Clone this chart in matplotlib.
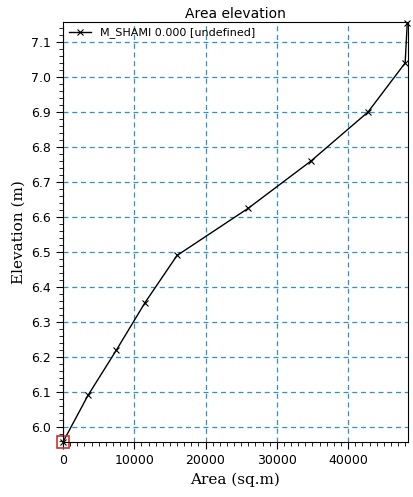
import matplotlib
matplotlib.use("Agg")
import matplotlib.pyplot as plt
from matplotlib.ticker import MultipleLocator

area = [0, 3500, 7500, 11500, 16000, 26000, 34800, 42800, 48000, 48300]
elev = [5.957, 6.09, 6.22, 6.355, 6.49, 6.625, 6.76, 6.9, 7.04, 7.155]
xticks = [0, 10000, 20000, 30000, 40000]
yticks = [6.0, 6.1, 6.2, 6.3, 6.4, 6.5, 6.6, 6.7, 6.8, 6.9, 7.0, 7.1]

fig = plt.figure(figsize=(4.13, 4.97), dpi=100)
ax = fig.add_axes([63/413, 1-442/497, 345/413, 420/497])
ax.plot(area, elev, color="black", lw=1, marker="x", ms=5, mew=0.8,
        label="M_SHAMI 0.000 [undefined]", clip_on=False)
ax.plot([area[0]], [elev[0]], marker="s", ms=9, mfc="none", mec="#d03030",
        mew=1.2, clip_on=False)
ax.set_xlim(0, 48400)
ax.set_ylim(5.957, 7.157)
ax.set_xticks(xticks)
ax.set_xticklabels([str(v) for v in xticks])
ax.set_yticks(yticks)
ax.set_yticklabels([f"{v:.1f}" for v in yticks])
ax.xaxis.set_minor_locator(MultipleLocator(1000))
ax.yaxis.set_minor_locator(MultipleLocator(0.02))
ax.tick_params(which="major", direction="out", length=5, labelsize=9)
ax.tick_params(which="minor", direction="out", length=3)
ax.grid(True, color="#3090c8", ls=(0, (4, 3)), lw=0.9)
ax.set_title("Area elevation", fontsize=10, pad=3)
ax.set_xlabel("Area (sq.m)", family="DejaVu Serif", fontsize=11)
ax.set_ylabel("Elevation (m)", family="DejaVu Serif", fontsize=11)
ax.legend(loc="upper left", frameon=False, fontsize=8, handlelength=2,
          borderaxespad=0.1)
fig.savefig("out.png", dpi=100)
